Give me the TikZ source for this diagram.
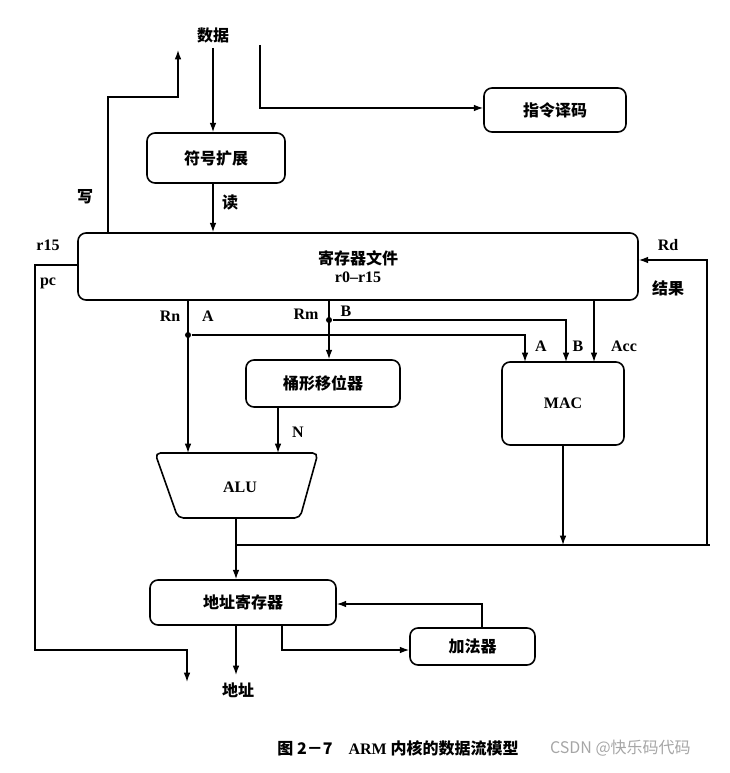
\documentclass[tikz,border=0pt]{standalone}
\usepackage{fontspec}
\setmainfont{Liberation Serif}
\newfontfamily\cjk{Noto Sans CJK SC}
\usetikzlibrary{arrows.meta}
\begin{document}
\begin{tikzpicture}[x=0.75pt,y=-0.75pt,
  line width=1pt,
  box/.style={draw,rounded corners=6pt,line width=1.2pt,inner sep=0pt,font=\cjk\bfseries\large},
  arr/.style={-{Latex[length=7pt,width=5pt]}},
  lab/.style={font=\large\bfseries},
  clab/.style={font=\cjk\bfseries\large},
  dot/.style={circle,fill,inner sep=1.6pt}]
\useasboundingbox (0,0) rectangle (730,773);
% boxes
\node[box,minimum width=103.5pt,minimum height=37.5pt] (sx) at (216,158) {符号扩展};
\node[box,minimum width=106.5pt,minimum height=33pt] (dec) at (555,110) {指令译码};
\node[box,minimum width=420pt,minimum height=50.25pt,align=center] (rf) at (358,266.5) {寄存器文件\\[-1pt]{\rmfamily\bfseries r0–r15}};
\node[box,minimum width=115.5pt,minimum height=35.25pt] (bs) at (323,383.5) {桶形移位器};
\node[box,minimum width=91.5pt,minimum height=62.25pt,font=\large\bfseries] (mac) at (563,403.5) {MAC};
\node[box,minimum width=139.5pt,minimum height=33.75pt] (ar) at (243,602.5) {地址寄存器};
\node[box,minimum width=93.75pt,minimum height=27.75pt] (add) at (472.5,646.5) {加法器};
\draw[line width=1.2pt,rounded corners=4pt] (155,453) -- (318,453) -- (300,518) -- (178,518) -- cycle;
\node[lab] (alu) at (240,487) {ALU};
% labels
\node[clab] (data) at (213,35) {数据};
\node[clab] (rd) at (230,202) {读};
\node[clab] (wr) at (85,197) {写};
\node[lab] (r15) at (48,245) {r15};
\node[lab] (pc) at (48,283) {pc};
\node[lab] (rdl) at (668,245) {Rd};
\node[clab] (res) at (668,288) {结果};
\node[lab] (rn) at (170,316) {Rn};
\node[lab] (la) at (208,316) {A};
\node[lab] (rm) at (306,314) {Rm};
\node[lab] (lb) at (346,311) {B};
\node[lab] (ma) at (541,346) {A};
\node[lab] (mb) at (578,346) {B};
\node[lab] (acc) at (624,346) {Acc};
\node[lab] (ln) at (298,432) {N};
\node[clab] (addr) at (238,690) {地址};
\node[font=\cjk\bfseries\large] (cap) at (398,748) {图 2－7\quad {\rmfamily\bfseries ARM} 内核的数据流模型};
\node[font=\cjk\large,text=gray!70,anchor=west] (wm) at (545,748) {CSDN @快乐码代码};
% connectors
\coordinate (c1) at (213,48);
\draw[arr] (c1) -- (sx.north -| c1);
\draw[arr] (sx.south -| c1) -- (rf.north -| c1);
\coordinate (w0) at (108,97);
\coordinate (w1) at (178,50);
\draw[arr] (rf.north -| w0) -- (w0) -- (w0 -| w1) -- (w1);
\coordinate (i0) at (260,45);
\draw[arr] (i0) -- (260,108) -- (dec.west |- 0,108);
\coordinate (pcb) at (187,682);
\draw[arr] (rf.west |- 0,265) -- (35,265) -- (35,650) -- (187,650) -- (pcb);
\coordinate (rdb) at (707,545);
\draw[arr] (rdb) -- (707,260) -- (rf.east |- 0,260);
\coordinate (busL) at (236,545);
\draw (busL) -- (710,545);
\draw[arr] (mac.south) -- (mac.south |- busL);
\draw[arr] (236,518) -- (ar.north -| 236,0);
% A path
\node[dot] (da) at (188,335) {};
\draw[arr] (rf.south -| da) -- (188,453);
\draw[arr] (da) -- (525,335) -- (525,362);
% B path
\node[dot] (db) at (329,320) {};
\draw[arr] (rf.south -| db) -- (bs.north -| db);
\draw[arr] (db) -- (566,320) -- (566,362);
\draw[arr] (rf.south -| 594,0) -- (594,362);
\draw[arr] (bs.south -| 278,0) -- (278,453);
% address
\coordinate (ao) at (236,675);
\draw[arr] (ar.south -| ao) -- (ao);
\draw[arr] (ar.south -| 282,0) -- (282,650) -- (add.west |- 0,650);
\draw[arr] (add.north -| 482,0) -- (482,604) -- (ar.east |- 0,604);
\end{tikzpicture}
\end{document}
